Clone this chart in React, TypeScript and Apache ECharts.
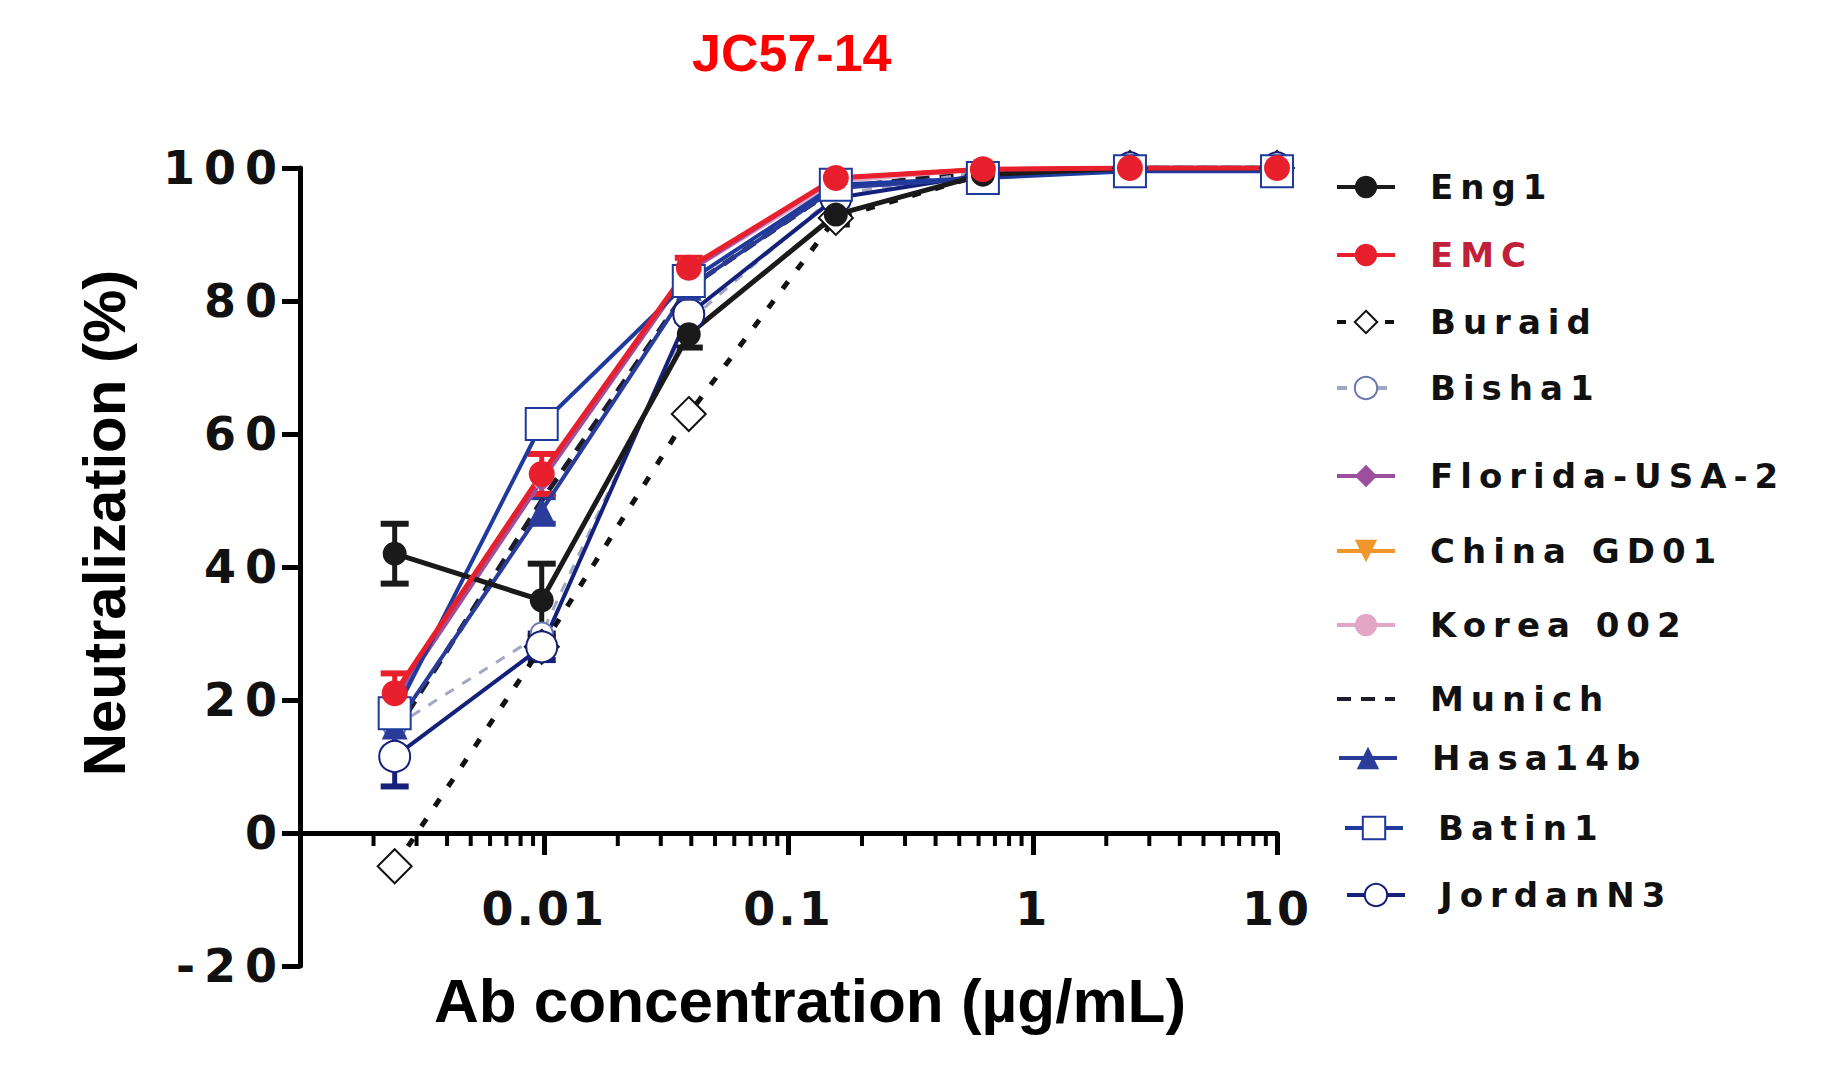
import React, { useEffect, useRef } from 'react';
import * as echarts from 'echarts';

// ---- data ----
const X_VALUES = [0.00244140625, 0.009765625, 0.0390625, 0.15625, 0.625, 2.5, 10];

const ENG1 = [42, 35, 75, 93, 99, 100, 100];
const EMC = [21, 54, 85, 98.5, 99.8, 100, 100];
const BURAID = [-5, 28, 63, 92.5, 99, 100, 100];
const BISHA1 = [16, 30, 77, 96, 99.5, 100, 100];
const FLORIDA = [20, 53, 84.5, 98.5, 99.8, 100, 100];
const CHINA_GD01 = [20.5, 53.5, 85, 98.5, 99.8, 100, 100];
const KOREA_002 = [20, 53, 84.5, 98, 99.8, 100, 100];
const MUNICH = [15, 50, 82, 97, 99.5, 100, 100];
const HASA14B = [16, 48.5, 82, 97, 98.5, 100, 100];
const BATIN1 = [18, 61.5, 83, 97.5, 98.5, 99.5, 99.5];
const JORDANN3 = [11.5, 28, 78, 95.5, 99, 100, 100];

const ENG1_ERR = [4.5, 5.5, 2, 1.5, 0.8, 0, 0];
const EMC_ERR = [3, 3, 1.5, 1, 0, 0, 0];
const JORDANN3_ERR = [4.5, 2, 0, 0, 0, 0, 0];
const HASA14B_ERR = [4, 2, 1, 1, 0, 0, 0];
const BATIN1_ERR = [0, 1.5, 0, 0, 2, 2, 2];

const Y_MIN = -20;
const Y_MAX = 100;
const Y_INTERVAL = 20;
const X_MIN = 0.001;
const X_MAX = 10;
const MINOR_MULTIPLIERS = [2, 3, 4, 5, 6, 7, 8, 9];
const DECADES = [0.001, 0.01, 0.1, 1];
const MINOR_TICKS = DECADES.flatMap((d) => MINOR_MULTIPLIERS.map((m) => Number((d * m).toPrecision(3))));

const LEGEND_ORDER = ['Eng1', 'EMC', 'Buraid', 'Bisha1', 'Florida-USA-2', 'China GD01', 'Korea 002', 'Munich', 'Hasa14b', 'Batin1', 'JordanN3'];

// ---- styles / layout ----
const LEGEND_ROW_Y = [184, 252, 319, 385, 473, 548, 622, 696, 755, 825, 892];
const LEGEND_LEFT = [1335, 1335, 1335, 1335, 1335, 1335, 1335, 1335, 1337, 1343, 1345];

type SeriesCfg = {
  name: string;
  values: number[];
  color: string;
  lineColor?: string;
  width: number;
  dash?: number[] | 'solid';
  symbol: string;
  size: number;
  rotate?: number;
  border?: number;
};

const SERIES_CFG: SeriesCfg[] = [
  { name: 'Munich', values: MUNICH, color: '#1c1c2a', width: 5, dash: [14, 10], symbol: 'none', size: 0 },
  { name: 'Korea 002', values: KOREA_002, color: '#e3a6c6', width: 4, symbol: 'circle', size: 18 },
  { name: 'China GD01', values: CHINA_GD01, color: '#f0962a', width: 4, symbol: 'triangle', size: 20, rotate: 180 },
  { name: 'Florida-USA-2', values: FLORIDA, color: '#9c4f9c', width: 4, symbol: 'diamond', size: 22 },
  { name: 'Bisha1', values: BISHA1, color: '#6b77ad', lineColor: '#a0a6c4', width: 3, dash: [10, 10], symbol: 'emptyCircle', size: 22, border: 4 },
  { name: 'Buraid', values: BURAID, color: '#111111', width: 5, dash: [9, 15], symbol: 'emptyDiamond', size: 34, border: 5 },
  { name: 'JordanN3', values: JORDANN3, color: '#15207a', width: 4, symbol: 'emptyCircle', size: 31, border: 6 },
  { name: 'Hasa14b', values: HASA14B, color: '#2a3b9a', width: 4, symbol: 'triangle', size: 26 },
  { name: 'Batin1', values: BATIN1, color: '#1e3a9c', width: 4, symbol: 'emptyRect', size: 32, border: 7 },
  { name: 'Eng1', values: ENG1, color: '#1a1a1a', width: 5, symbol: 'circle', size: 24 },
  { name: 'EMC', values: EMC, color: '#e8202e', width: 5, symbol: 'circle', size: 26 },
];

const ERR_CFG = [
  { values: JORDANN3, err: JORDANN3_ERR, color: '#15207a' },
  { values: HASA14B, err: HASA14B_ERR, color: '#2a3b9a' },
  { values: BATIN1, err: BATIN1_ERR, color: '#1e3a9c' },
  { values: ENG1, err: ENG1_ERR, color: '#1a1a1a' },
  { values: EMC, err: EMC_ERR, color: '#e8202e' },
];

function errorSeries(values: number[], err: number[], color: string) {
  const data = X_VALUES.map((x, i) => [x, values[i] - err[i], values[i] + err[i]]).filter((_, i) => err[i] > 0);
  return {
    type: 'custom',
    silent: true,
    z: 2,
    encode: { x: 0, y: [1, 2] },
    data,
    renderItem: (_params: any, api: any) => {
      const x = api.value(0);
      const lo = api.value(1);
      const hi = api.value(2);
      const top = api.coord([x, hi]);
      const bot = api.coord([x, lo]);
      const hw = 14;
      return {
        type: 'group',
        children: [
          { type: 'line', shape: { x1: top[0], y1: top[1], x2: bot[0], y2: bot[1] }, style: { stroke: color, lineWidth: 5 } },
          { type: 'line', shape: { x1: top[0] - hw, y1: top[1], x2: top[0] + hw, y2: top[1] }, style: { stroke: color, lineWidth: 6 } },
          { type: 'line', shape: { x1: bot[0] - hw, y1: bot[1], x2: bot[0] + hw, y2: bot[1] }, style: { stroke: color, lineWidth: 6 } },
        ],
      };
    },
  };
}

function minorTickSeries() {
  return {
    type: 'custom',
    silent: true,
    z: 3,
    encode: { x: 0, y: 1 },
    data: MINOR_TICKS.map((v) => [v, 0]),
    renderItem: (_params: any, api: any) => {
      const p = api.coord([api.value(0), 0]);
      return { type: 'line', shape: { x1: p[0], y1: p[1], x2: p[0], y2: p[1] + 13 }, style: { stroke: '#000', lineWidth: 4 } };
    },
  };
}

export default function App() {
  const ref = useRef<HTMLDivElement>(null);

  useEffect(() => {
    if (!ref.current) return;
    const chart = echarts.init(ref.current, undefined, { renderer: 'svg' });

    const lineSeries = SERIES_CFG.map((c) => ({
      type: 'line',
      name: c.name,
      data: X_VALUES.map((x, i) => [x, c.values[i]]),
      symbol: c.symbol,
      symbolSize: c.size,
      symbolRotate: c.rotate || 0,
      z: 3,
      emphasis: { disabled: true },
      lineStyle: { color: c.lineColor || c.color, width: c.width, type: c.dash || 'solid' },
      itemStyle: { color: c.color, borderColor: c.color, borderWidth: c.border ?? 0 },
    }));

    const legends = LEGEND_ORDER.map((name, i) => {
      const lg: any = {
        show: true,
        orient: 'vertical',
        left: LEGEND_LEFT[i],
        top: LEGEND_ROW_Y[i] - 14,
        padding: 0,
        itemWidth: 58,
        itemHeight: 28,
        selectedMode: false,
        data: [name],
        lineStyle: { width: 4 },
        textStyle: {
          fontSize: 34,
          fontWeight: 'bold',
          fontFamily: 'LegSp, DejaVu Sans, sans-serif',
          color: name === 'EMC' ? '#c0203a' : '#111111',
          padding: [0, 0, 0, 30],
        },
      };
      if (name === 'Munich') lg.itemStyle = { opacity: 0 };
      return lg;
    });

    chart.setOption({
      animation: false,
      backgroundColor: '#ffffff',
      title: {
        text: 'JC57-14',
        left: 692,
        top: 27,
        padding: 0,
        textStyle: { fontSize: 52, fontWeight: 'bold', color: '#ff0000', fontFamily: 'Liberation Sans, Arial, sans-serif' },
      },
      grid: { left: 300, right: 563, top: 168, bottom: 99, containLabel: false },
      legend: legends,
      xAxis: {
        type: 'log',
        logBase: 10,
        min: X_MIN,
        max: X_MAX,
        axisLine: { show: true, onZero: true, lineStyle: { color: '#000', width: 5 } },
        axisTick: { show: true, length: 22, lineStyle: { color: '#000', width: 5 } },
        splitLine: { show: false },
        axisLabel: {
          margin: -80,
          fontSize: 46,
          fontWeight: 'bold',
          color: '#111',
          fontFamily: 'XLabSp, DejaVu Sans, sans-serif',
          formatter: (v: number) => (v < 0.005 ? '' : String(Number(v.toPrecision(1)))),
        },
      },
      yAxis: {
        type: 'value',
        min: Y_MIN,
        max: Y_MAX,
        interval: Y_INTERVAL,
        axisLine: { show: true, onZero: false, lineStyle: { color: '#000', width: 5 } },
        axisTick: { show: true, length: 18, lineStyle: { color: '#000', width: 5 } },
        splitLine: { show: false },
        axisLabel: {
          margin: 14,
          fontSize: 46,
          fontWeight: 'bold',
          color: '#111',
          fontFamily: 'YLabSp, DejaVu Sans, sans-serif',
        },
      },
      graphic: [
        {
          type: 'text',
          x: 104,
          y: 523,
          rotation: Math.PI / 2,
          style: {
            text: 'Neutralization (%)',
            fontSize: 60,
            fontWeight: 'bold',
            fontFamily: 'Liberation Sans, Arial, sans-serif',
            fill: '#000',
            align: 'center',
            verticalAlign: 'middle',
          },
        },
        {
          type: 'text',
          x: 810,
          y: 1000,
          style: {
            text: 'Ab concentration (µg/mL)',
            fontSize: 62,
            fontWeight: 'bold',
            fontFamily: 'Liberation Sans, Arial, sans-serif',
            fill: '#000',
            align: 'center',
            verticalAlign: 'middle',
          },
        },
      ],
      series: [
        minorTickSeries(),
        ...ERR_CFG.map((e) => errorSeries(e.values, e.err, e.color)),
        ...lineSeries,
      ],
    });

    return () => chart.dispose();
  }, []);

  return (
    <>
      <style>{`
        body { margin: 0; }
        #chart text[style*="LegSp"] { letter-spacing: 7px; }
        #chart text[style*="YLabSp"] { letter-spacing: 9px; }
        #chart text[style*="XLabSp"] { letter-spacing: 3px; }
      `}</style>
      <div id="chart" ref={ref} style={{ width: 1840, height: 1065 }} />
    </>
  );
}
